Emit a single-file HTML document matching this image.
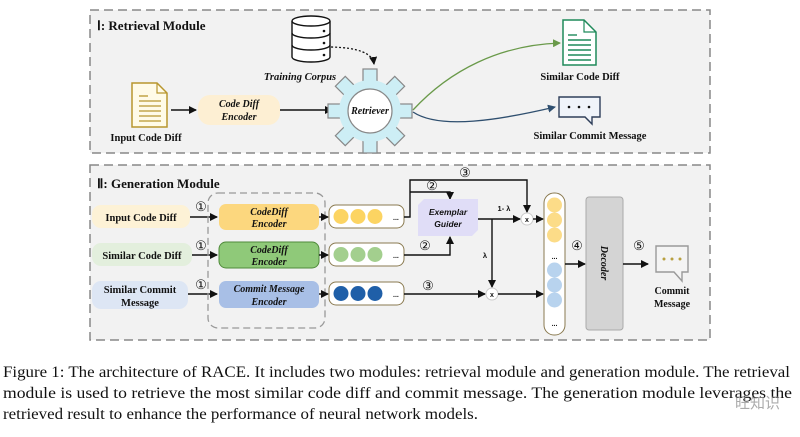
<!DOCTYPE html>
<html><head><meta charset="utf-8"><style>
html,body{margin:0;padding:0;background:#fff;}
svg{display:block;}
.b{font-family:"Liberation Serif",serif;font-weight:bold;fill:#111;}
.i{font-family:"Liberation Serif",serif;font-weight:bold;font-style:italic;fill:#111;}
.s{font-family:"Liberation Sans",sans-serif;font-weight:bold;fill:#111;}
.c{font-family:"Liberation Serif",serif;fill:#111;}
</style></head><body>
<svg width="800" height="437" viewBox="0 0 800 437" xmlns="http://www.w3.org/2000/svg">
<defs>
<marker id="a" markerWidth="8" markerHeight="8" refX="7" refY="4" orient="auto" markerUnits="userSpaceOnUse"><path d="M0,0 L8,4 L0,8 z" fill="#111"/></marker>
<marker id="ag" markerWidth="8" markerHeight="8" refX="7" refY="4" orient="auto" markerUnits="userSpaceOnUse"><path d="M0,0 L8,4 L0,8 z" fill="#6a9a4a"/></marker>
<marker id="ab" markerWidth="8" markerHeight="8" refX="7" refY="4" orient="auto" markerUnits="userSpaceOnUse"><path d="M0,0 L8,4 L0,8 z" fill="#2f4f6f"/></marker>
</defs>
<!-- Module boxes -->
<rect x="90" y="10" width="620" height="143" fill="#f2f2f2" stroke="#888" stroke-width="1.5" stroke-dasharray="9,5"/>
<rect x="90" y="165" width="620" height="175" fill="#f2f2f2" stroke="#888" stroke-width="1.5" stroke-dasharray="9,5"/>
<text x="97" y="30" class="b" font-size="13">Ⅰ: Retrieval Module</text>
<text x="97" y="188" class="b" font-size="13">Ⅱ: Generation Module</text>

<!-- Input doc -->
<path d="M132,83 L157,83 L167,93 L167,127 L132,127 Z" fill="#fffbe8" stroke="#b8962e" stroke-width="1.5"/>
<path d="M157,83 L157,93 L167,93" fill="none" stroke="#b8962e" stroke-width="1.2"/>
<g stroke="#b8962e" stroke-width="1.3"><line x1="139" y1="96" x2="148" y2="96"/><line x1="139" y1="101" x2="161" y2="101"/><line x1="139" y1="106" x2="161" y2="106"/><line x1="139" y1="111" x2="161" y2="111"/><line x1="139" y1="116" x2="161" y2="116"/><line x1="139" y1="121" x2="161" y2="121"/></g>
<text x="146" y="141" class="b" font-size="10.5" text-anchor="middle">Input Code Diff</text>
<line x1="171" y1="110" x2="196" y2="110" stroke="#111" stroke-width="1.4" marker-end="url(#a)"/>
<rect x="198" y="95" width="82" height="30" rx="12" fill="#fdefd3"/>
<text x="239" y="107" class="i" font-size="10" text-anchor="middle">Code Diff</text>
<text x="239" y="120" class="i" font-size="10" text-anchor="middle">Encoder</text>
<line x1="280" y1="110" x2="332" y2="110" stroke="#111" stroke-width="1.4" marker-end="url(#a)"/>

<!-- database -->
<g fill="#fff" stroke="#111" stroke-width="1.4">
<path d="M292,21 L292,57 A19,5 0 0 0 330,57 L330,21"/>
<ellipse cx="311" cy="21" rx="19" ry="5"/>
<path d="M292,33 A19,5 0 0 0 330,33" fill="none"/>
<path d="M292,45 A19,5 0 0 0 330,45" fill="none"/>
</g>
<circle cx="324" cy="31" r="1.3" fill="#111"/><circle cx="324" cy="43" r="1.3" fill="#111"/><circle cx="324" cy="55" r="1.3" fill="#111"/>
<path d="M331,47 Q372,48 374,64" fill="none" stroke="#111" stroke-width="1.3" stroke-dasharray="2,2" marker-end="url(#a)"/>
<text x="300" y="80" class="i" font-size="10.5" text-anchor="middle">Training Corpus</text>

<!-- gear -->
<g transform="translate(370,111)">
<g fill="#cdeef5" stroke="#888" stroke-width="1.2">
<rect x="-7" y="-42" width="14" height="16"/>
<rect x="-7" y="-42" width="14" height="16" transform="rotate(45)"/>
<rect x="-7" y="-42" width="14" height="16" transform="rotate(90)"/>
<rect x="-7" y="-42" width="14" height="16" transform="rotate(135)"/>
<rect x="-7" y="-42" width="14" height="16" transform="rotate(180)"/>
<rect x="-7" y="-42" width="14" height="16" transform="rotate(225)"/>
<rect x="-7" y="-42" width="14" height="16" transform="rotate(270)"/>
<rect x="-7" y="-42" width="14" height="16" transform="rotate(315)"/>
</g>
<circle r="31" fill="#cdeef5"/>
<circle r="22" fill="#fff" stroke="#888" stroke-width="1.2"/>
</g>
<text x="370" y="114" class="i" font-size="10" text-anchor="middle">Retriever</text>

<!-- curves -->
<path d="M413,110 C450,70 500,45 560,43" fill="none" stroke="#6a9a4a" stroke-width="1.3" marker-end="url(#ag)"/>
<path d="M413,112 C440,130 500,120 555,107" fill="none" stroke="#2f4f6f" stroke-width="1.3" marker-end="url(#ab)"/>
<!-- similar doc -->
<path d="M563,20 L584,20 L596,32 L596,65 L563,65 Z" fill="#fff" stroke="#1f8a5a" stroke-width="1.5"/>
<path d="M584,20 L584,32 L596,32" fill="none" stroke="#1f8a5a" stroke-width="1.2"/>
<g stroke="#1f8a5a" stroke-width="1.4"><line x1="568" y1="35" x2="577" y2="35"/><line x1="568" y1="40" x2="591" y2="40"/><line x1="568" y1="45" x2="591" y2="45"/><line x1="568" y1="50" x2="591" y2="50"/><line x1="568" y1="55" x2="591" y2="55"/><line x1="568" y1="60" x2="591" y2="60"/></g>
<text x="580" y="80" class="b" font-size="10.5" text-anchor="middle">Similar Code Diff</text>
<!-- chat -->
<path d="M559,97 L600,97 L600,117 L592,117 L592,124 L585,117 L559,117 Z" fill="#f0f4fa" stroke="#2f3f5a" stroke-width="1.4"/>
<circle cx="569" cy="107" r="1.3" fill="#111"/><circle cx="579" cy="107" r="1.3" fill="#111"/><circle cx="589" cy="107" r="1.3" fill="#111"/>
<text x="590" y="139" class="b" font-size="10.5" text-anchor="middle">Similar Commit Message</text>

<!-- generation inputs -->
<rect x="92" y="205" width="98" height="23" rx="9" fill="#fdf2d6"/>
<text x="141" y="221" class="b" font-size="10.5" text-anchor="middle">Input Code Diff</text>
<rect x="92" y="243" width="100" height="23" rx="9" fill="#e3efdd"/>
<text x="142" y="259" class="b" font-size="10.5" text-anchor="middle">Similar Code Diff</text>
<rect x="92" y="281" width="96" height="28" rx="9" fill="#dde6f4"/>
<text x="140" y="293" class="b" font-size="10.5" text-anchor="middle">Similar Commit</text>
<text x="140" y="306" class="b" font-size="10.5" text-anchor="middle">Message</text>

<text x="201" y="211" class="c" font-size="13" text-anchor="middle">①</text>
<text x="201" y="250" class="c" font-size="13" text-anchor="middle">①</text>
<text x="201" y="289" class="c" font-size="13" text-anchor="middle">①</text>
<line x1="190" y1="217" x2="217" y2="217" stroke="#111" stroke-width="1.4" marker-end="url(#a)"/>
<line x1="192" y1="255" x2="217" y2="255" stroke="#111" stroke-width="1.4" marker-end="url(#a)"/>
<line x1="188" y1="294" x2="217" y2="294" stroke="#111" stroke-width="1.4" marker-end="url(#a)"/>

<rect x="208" y="193" width="117" height="135" rx="10" fill="none" stroke="#999" stroke-width="1.3" stroke-dasharray="7,4"/>
<rect x="219" y="204" width="100" height="26" rx="7" fill="#fcd77e"/>
<text x="269" y="215" class="i" font-size="10" text-anchor="middle">CodeDiff</text>
<text x="269" y="227" class="i" font-size="10" text-anchor="middle">Encoder</text>
<rect x="219" y="242" width="100" height="26" rx="7" fill="#8fc979" stroke="#4f8a3a" stroke-width="1"/>
<text x="269" y="253" class="i" font-size="10" text-anchor="middle">CodeDiff</text>
<text x="269" y="265" class="i" font-size="10" text-anchor="middle">Encoder</text>
<rect x="219" y="281" width="100" height="27" rx="7" fill="#a8bfe6"/>
<text x="269" y="292" class="i" font-size="10" text-anchor="middle">Commit Message</text>
<text x="269" y="305" class="i" font-size="10" text-anchor="middle">Encoder</text>

<line x1="319" y1="217" x2="328" y2="217" stroke="#111" stroke-width="1.4" marker-end="url(#a)"/>
<line x1="319" y1="255" x2="328" y2="255" stroke="#111" stroke-width="1.4" marker-end="url(#a)"/>
<line x1="319" y1="294" x2="328" y2="294" stroke="#111" stroke-width="1.4" marker-end="url(#a)"/>
<!-- vectors -->
<rect x="329" y="205" width="75" height="23" rx="7" fill="#fff" stroke="#8a7a50" stroke-width="1"/>
<circle cx="341" cy="216.5" r="7.5" fill="#fcd462"/><circle cx="358" cy="216.5" r="7.5" fill="#fcd462"/><circle cx="375" cy="216.5" r="7.5" fill="#fcd462"/>
<text x="393" y="220" class="s" font-size="7">...</text>
<rect x="329" y="243" width="75" height="23" rx="7" fill="#fff" stroke="#8a7a50" stroke-width="1"/>
<circle cx="341" cy="254.5" r="7.5" fill="#a3cf8e"/><circle cx="358" cy="254.5" r="7.5" fill="#a3cf8e"/><circle cx="375" cy="254.5" r="7.5" fill="#a3cf8e"/>
<text x="393" y="258" class="s" font-size="7">...</text>
<rect x="329" y="282" width="75" height="23" rx="7" fill="#fff" stroke="#8a7a50" stroke-width="1"/>
<circle cx="341" cy="293.5" r="7.5" fill="#1f5fa8"/><circle cx="358" cy="293.5" r="7.5" fill="#1f5fa8"/><circle cx="375" cy="293.5" r="7.5" fill="#1f5fa8"/>
<text x="393" y="297" class="s" font-size="7">...</text>

<!-- connections -->
<path d="M404,217 L410,217 L410,180 L527,180 L527,212" fill="none" stroke="#111" stroke-width="1.4" marker-end="url(#a)"/>
<path d="M410,192 L450,192 L450,199" fill="none" stroke="#111" stroke-width="1.4" marker-end="url(#a)"/>
<text x="465" y="177" class="c" font-size="13" text-anchor="middle">③</text>
<text x="432" y="190" class="c" font-size="13" text-anchor="middle">②</text>
<path d="M418,205 L424,199 L478,199 L478,230 L472,236 L418,236 Z" fill="#e0ddf7"/>
<text x="448" y="215" class="s" font-size="8.5" font-style="italic" text-anchor="middle">Exemplar</text>
<text x="448" y="227" class="s" font-size="8.5" font-style="italic" text-anchor="middle">Guider</text>
<path d="M404,255 L450,255 L450,237" fill="none" stroke="#111" stroke-width="1.4" marker-end="url(#a)"/>
<text x="425" y="250" class="c" font-size="13" text-anchor="middle">②</text>
<line x1="478" y1="219" x2="520" y2="219" stroke="#111" stroke-width="1.4" marker-end="url(#a)"/>
<text x="504" y="211" class="s" font-size="7.5" text-anchor="middle">1- λ</text>
<line x1="492" y1="219" x2="492" y2="287" stroke="#111" stroke-width="1.4" marker-end="url(#a)"/>
<text x="485" y="258" class="s" font-size="7.5" text-anchor="middle">λ</text>
<line x1="404" y1="294" x2="485" y2="294" stroke="#111" stroke-width="1.4" marker-end="url(#a)"/>
<text x="428" y="290" class="c" font-size="13" text-anchor="middle">③</text>
<circle cx="527" cy="219" r="6" fill="#fff" stroke="#ccc"/><text x="527" y="222" class="s" font-size="7" text-anchor="middle">x</text>
<circle cx="492" cy="294" r="6" fill="#fff" stroke="#ccc"/><text x="492" y="297" class="s" font-size="7" text-anchor="middle">x</text>
<line x1="533" y1="219" x2="543" y2="219" stroke="#111" stroke-width="1.4" marker-end="url(#a)"/>
<line x1="498" y1="294" x2="543" y2="294" stroke="#111" stroke-width="1.4" marker-end="url(#a)"/>

<!-- tall capsule -->
<rect x="544" y="193" width="21" height="142" rx="10" fill="#fff" stroke="#8a7a50" stroke-width="1"/>
<circle cx="554.5" cy="205" r="7.5" fill="#fcdc88"/><circle cx="554.5" cy="220" r="7.5" fill="#fcdc88"/><circle cx="554.5" cy="235" r="7.5" fill="#fcdc88"/>
<text x="554.5" y="259" class="s" font-size="7" text-anchor="middle">...</text>
<circle cx="554.5" cy="270" r="7.5" fill="#b8d3ee"/><circle cx="554.5" cy="285" r="7.5" fill="#b8d3ee"/><circle cx="554.5" cy="300" r="7.5" fill="#b8d3ee"/>
<text x="554.5" y="326" class="s" font-size="7" text-anchor="middle">...</text>
<text x="577" y="250" class="c" font-size="13" text-anchor="middle">④</text>
<line x1="565" y1="264" x2="585" y2="264" stroke="#111" stroke-width="1.4" marker-end="url(#a)"/>
<rect x="586" y="197" width="37" height="133" rx="3" fill="#d4d4d4" stroke="#aaa" stroke-width="1"/>
<text transform="translate(601,263) rotate(90)" class="i" font-size="10" text-anchor="middle">Decoder</text>
<text x="639" y="250" class="c" font-size="13" text-anchor="middle">⑤</text>
<line x1="623" y1="264" x2="648" y2="264" stroke="#111" stroke-width="1.4" marker-end="url(#a)"/>
<path d="M656,246 L688,246 L688,272 L682,272 L682,281 L674,272 L656,272 Z" fill="#f4f4f4" stroke="#999" stroke-width="1.4"/>
<circle cx="664" cy="259" r="1.5" fill="#b8a040"/><circle cx="672" cy="259" r="1.5" fill="#b8a040"/><circle cx="680" cy="259" r="1.5" fill="#b8a040"/>
<text x="672" y="294" class="b" font-size="10" text-anchor="middle">Commit</text>
<text x="672" y="307" class="b" font-size="10" text-anchor="middle">Message</text>

<!-- caption -->
<text x="3" y="377" class="c" font-size="16" textLength="787" lengthAdjust="spacingAndGlyphs">Figure 1: The architecture of RACE. It includes two modules: retrieval module and generation module. The retrieval</text>
<text x="3" y="398" class="c" font-size="16" textLength="789" lengthAdjust="spacingAndGlyphs">module is used to retrieve the most similar code diff and commit message. The generation module leverages the</text>
<text x="3" y="419" class="c" font-size="16" textLength="475" lengthAdjust="spacingAndGlyphs">retrieved result to enhance the performance of neural network models.</text>
<text x="735" y="408" font-family="'Liberation Sans','Noto Sans CJK SC',sans-serif" font-size="15" fill="#888" opacity="0.7">旺知识</text>
</svg>
</body></html>
